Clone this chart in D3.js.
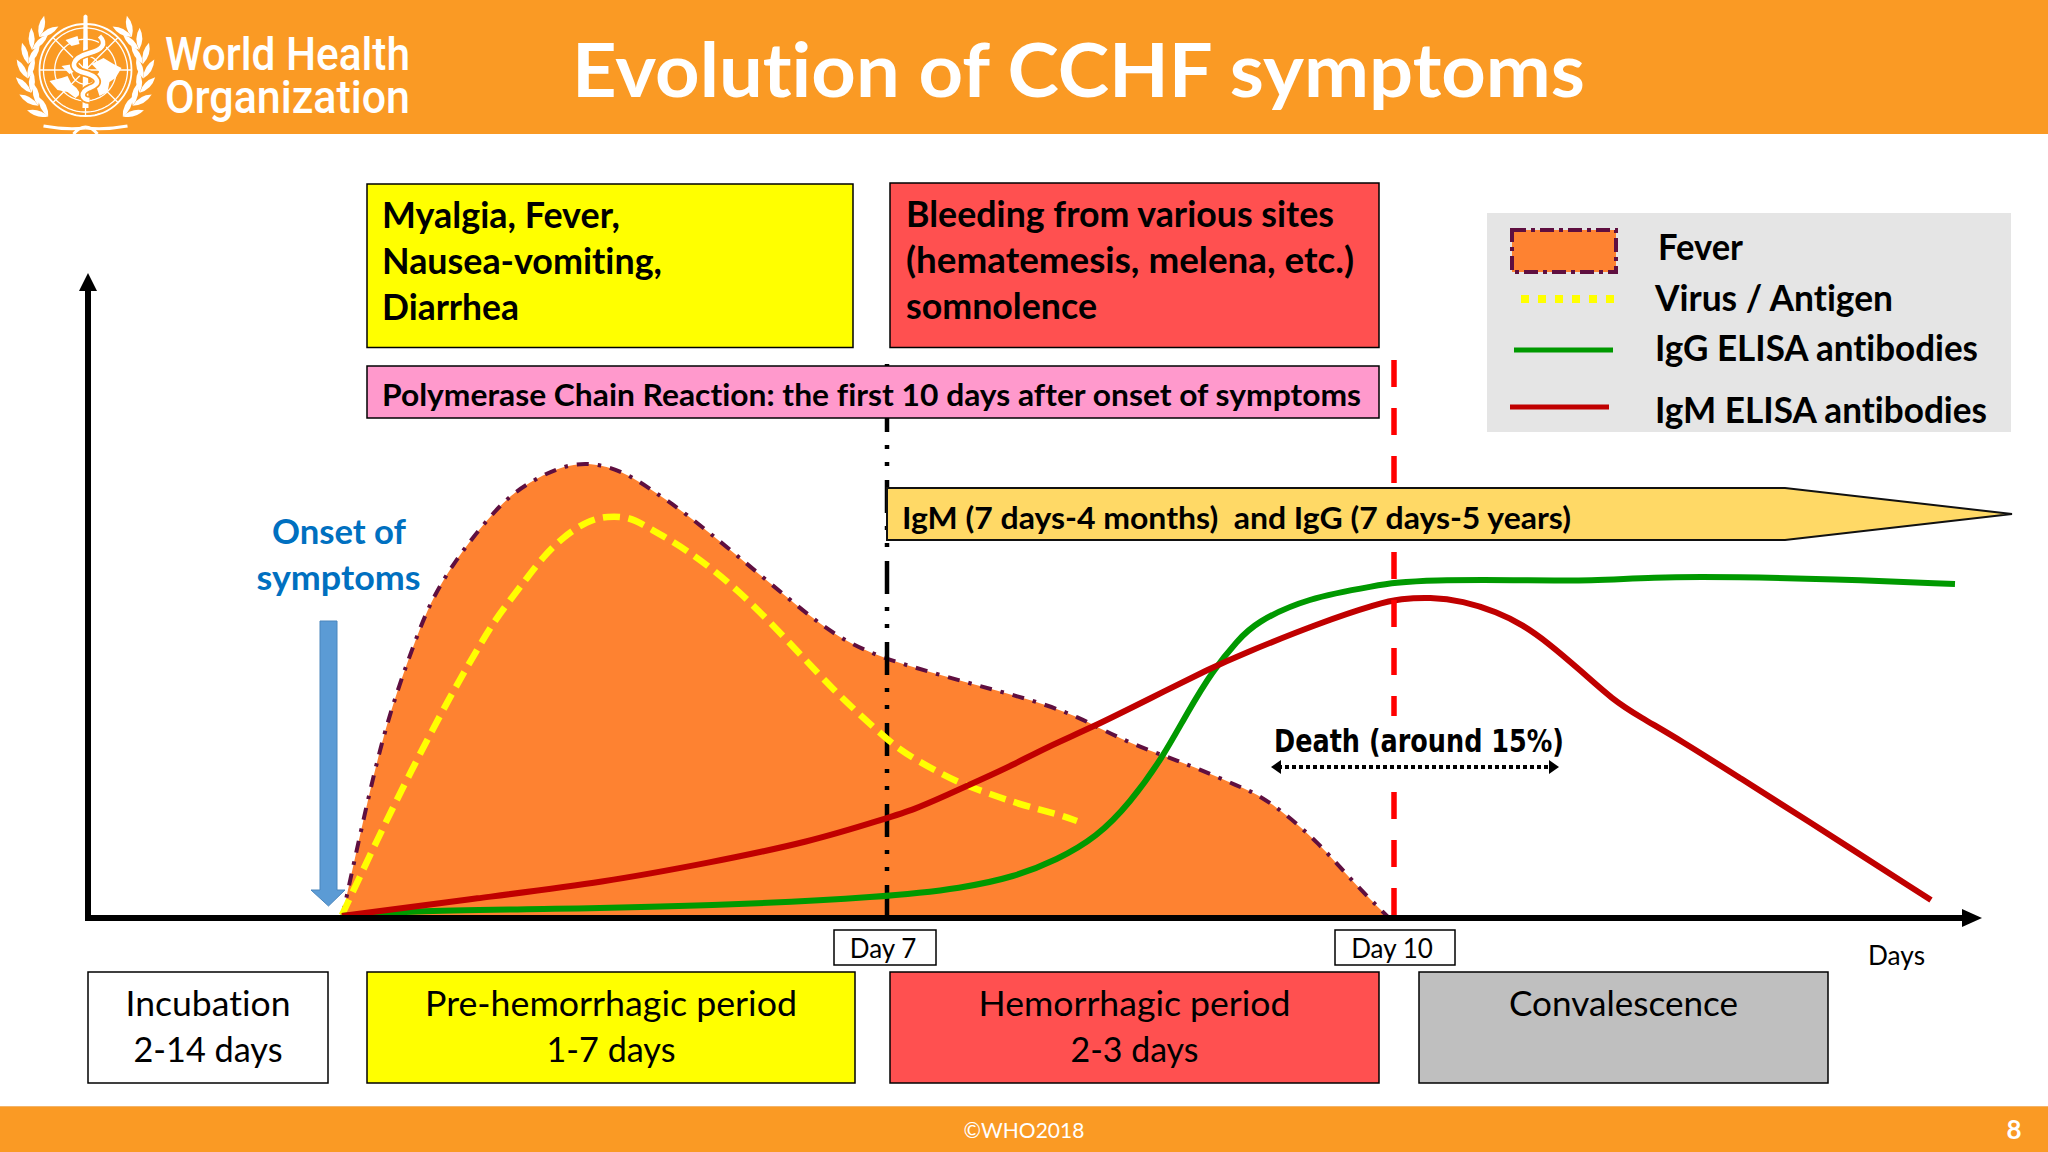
<!DOCTYPE html>
<html><head><meta charset="utf-8">
<script src="https://cdn.jsdelivr.net/npm/d3@7"></script>
<style>html,body{margin:0;padding:0;background:#fff}svg{display:block}text{font-family:Lato,Carlito,sans-serif;font-variant-ligatures:none}</style>
</head><body><svg id="c" width="2048" height="1152"></svg>
<script>
// timeline position (0 = onset of symptoms) and relative level (0-100)
const feverT=[0,2.4,4.2,5.8,7.1,8.5,10.1,12.1,14.5,16.8,19.5,22.1,24.8,28.1,31,34.6,39.2,44.8,49.4,53.8,57.1,60.5,63.8,67.1,70.5,73.8,75.5,78.8,82.5,85.5,89.8,91.3,93.9,97.7,100.9,104.7];
const feverV=[0,22.2,37,47,54.2,61.6,67.6,73.6,79.6,84.6,88,90.4,91.2,89.4,85.6,80.6,73,63.6,56.2,52.2,50.2,48.2,46.4,44.6,42.6,40,38.2,35,32.2,30,26.2,25,21.6,15,7.6,0];
const virusT=[0,3.5,6.8,10.6,13.5,15.1,16.8,18.5,20.1,22.1,24.5,26.5,28.8,30.5,34.6,39.7,44.8,49.4,53.8,55.8,57.8,59.8,61.8,64.5,67.1,69.5,71.8,73.5];
const virusV=[0.6,15.6,29,43.6,53.6,59,63.6,68,72.2,76.2,79.4,80.4,80.2,78.2,73.6,65.6,55,45,37,33.6,31.2,29,27,25,23.2,21.8,20.6,19.4];
const igmT=[0,13.7,26.4,36.6,46.8,54.5,57.1,60.5,63.8,67.1,70.5,75.1,80.5,87.1,89.8,97.7,103.8,105.8,108.8,112.1,115.5,118.1,120.5,123.8,127.1,129.8,133.8,139.8,145.5,158.9];
const igmV=[0.4,4,7.2,11,15.2,20,21.6,24.6,27.6,30.6,34.2,38.2,43.6,50.2,52.6,59,63,63.8,64.2,63.4,61.2,58.6,55.2,49.6,43.6,40.2,35.6,28,20.8,3.6];
const iggT=[0,6,21.3,36.6,54.5,62.1,67.2,71.5,75.5,78.8,82.1,84.5,87.1,89.6,91.3,96.4,103.8,105.1,108.8,117.1,125.5,130.5,139.8,148.7,161.3];
const iggV=[0.4,1.4,1.8,2.4,4.2,6,8.2,11.6,16.2,23,32.2,41,49.6,55.6,59,64,66.6,67,67.6,67.6,67.4,68.2,68.2,67.8,66.8];
const legendLabels=["Fever","Virus / Antigen","IgG ELISA antibodies","IgM ELISA antibodies"];
const phaseLabels=[["Incubation","2-14 days"],["Pre-hemorrhagic period","1-7 days"],["Hemorrhagic period","2-3 days"],["Convalescence",""]];
const symptomsEarly=["Myalgia, Fever,","Nausea-vomiting,","Diarrhea"];
const symptomsLate=["Bleeding from various sites","(hematemesis, melena, etc.)","somnolence"];
const day7=54.5, day10=105.2;

const ORANGE="#FA9A24";
const svg=d3.select("#c");
const x=d3.scaleLinear().domain([0,170]).range([342,2042]);
const y=d3.scaleLinear().domain([0,100]).range([918,418]);
const zip=(a,b)=>a.map((t,i)=>[t,b[i]]);
const curve=d3.curveBasis;
const line=d3.line().x(d=>x(d[0])).y(d=>y(d[1])).curve(curve);
const area=d3.area().x(d=>x(d[0])).y0(y(0)).y1(d=>y(d[1])).curve(curve);

function T(g,s,px,py,size,o={}){
  const t=g.append("text").attr("x",px).attr("y",py).attr("font-size",size).text(s)
    .attr("font-weight",o.w||400).attr("fill",o.f||"#000").attr("text-anchor",o.a||"start");
  if(o.ff)t.style("font-family",o.ff);
  if(o.len)t.attr("textLength",o.len).attr("lengthAdjust","spacingAndGlyphs");
  return t;
}
function R(g,a,b,c,d,fill,st="#000",sw=1.5){
  return g.append("rect").attr("x",a).attr("y",b).attr("width",c-a).attr("height",d-b).attr("fill",fill).attr("stroke",st).attr("stroke-width",sw);
}
// header and footer
R(svg,0,0,2048,134,ORANGE,"none",0);
R(svg,0,1106,2048,1152,ORANGE,"none",0);
svg.append("line").attr("x1",0).attr("x2",2048).attr("y1",1106.5).attr("y2",1106.5).attr("stroke","#f3b469").attr("stroke-width",1);
T(svg,"Evolution of CCHF symptoms",572,97,74,{w:700,f:"#fff",len:1013});
T(svg,"World Health",165,70,47,{w:500,f:"#fff",ff:"Roboto",len:245});
T(svg,"Organization",165,113,47,{w:500,f:"#fff",ff:"Roboto",len:245});
T(svg,"©WHO2018",1024,1138,21,{f:"#fff",a:"middle"});
T(svg,"8",2014,1139,26,{f:"#fff",a:"middle",w:700});

// WHO emblem
const logo=svg.append("g").attr("transform","translate(85.5,70)");
const proj=d3.geoOrthographic().rotate([0,-90]).scale(46).translate([0,0]).clipAngle(90);
logo.append("path").attr("d",d3.geoPath(proj)(d3.geoGraticule().step([45,24])()))
  .attr("fill","none").attr("stroke","#fff").attr("stroke-width",1.3);
logo.append("circle").attr("r",46).attr("fill","none").attr("stroke","#fff").attr("stroke-width",1.8);
["M-36,11L-24,8L-18,6L-14,14L-9,18L-5,24L-10,28L-18,22L-28,20Z",
 "M6,-6L18,-12L28,-6L36,-2L30,8L24,12L22,22L14,26L10,14L6,10L14,2Z",
 "M-24,-4L-12,-6L-8,0L-16,4Z","M-20,-30L-8,-34L-6,-26L-14,-24Z"].forEach(d=>logo.append("path").attr("d",d).attr("fill","#fff"));
logo.append("path").attr("d","M-2,-54Q0,-57 2,-54L3,38L-3,38Z").attr("fill","#fff");
const snake="M14,-34C22,-26 16,-20 4,-17C-14,-12 -16,-2 -4,2C14,6 16,14 4,18C-6,22 -4,30 4,30";
logo.append("path").attr("d",snake).attr("fill","none").attr("stroke",ORANGE).attr("stroke-width",8);
logo.append("path").attr("d",snake).attr("fill","none").attr("stroke","#fff").attr("stroke-width",4.5);
const leaf="M0,0Q6,-11 0,-22Q-6,-11 0,0Z";
[-1,1].forEach(side=>{
  const wing=logo.append("g").attr("transform",`scale(${side},1)`);
  d3.range(7).forEach(i=>{
    const th=(50-i*14.5)*Math.PI/180,R0=58,px=-R0*Math.cos(th),py=R0*Math.sin(th)+2,rot=-(50-i*14.5);
    [-24,24].forEach(tilt=>wing.append("path").attr("d",leaf).attr("fill","#fff").attr("transform",`translate(${px},${py}) rotate(${rot+tilt})`));
  });
  wing.append("path").attr("d","M42,56Q20,60 0,58").attr("fill","none").attr("stroke","#fff").attr("stroke-width",3);
});
logo.append("path").attr("d","M-12,64Q0,50 12,64").attr("fill","none").attr("stroke","#fff").attr("stroke-width",3);

// symptom boxes
R(svg,367,184,853,347.5,"#FFFF00");
symptomsEarly.forEach((s,i)=>T(svg,s,382,[228,274,320][i],36,{w:700,len:[238,280,137][i]}));
R(svg,890,183,1379,347.5,"#FF5050");
symptomsLate.forEach((s,i)=>T(svg,s,906,[227,273,319][i],36,{w:700,len:[428,448,191][i]}));

// fever area
svg.append("path").attr("d",area(zip(feverT,feverV))).attr("fill","#FE8231");
svg.append("path").attr("d",line(zip(feverT,feverV))).attr("fill","none").attr("stroke","#5F0F40").attr("stroke-width",4).attr("stroke-dasharray","12 9 3.5 9");
// Day 7 reference line
svg.append("line").attr("x1",x(day7)).attr("x2",x(day7)).attr("y1",363).attr("y2",918).attr("stroke","#000").attr("stroke-width",4.5).attr("stroke-dasharray","33 13 4 13 4 14").attr("stroke-dashoffset",45);

// antibody and virus curves
svg.append("path").attr("d",line(zip(virusT,virusV))).attr("fill","none").attr("stroke","#FFFF00").attr("stroke-width",6.5).attr("stroke-dasharray","17 8.5");
svg.append("path").attr("d",line(zip(iggT,iggV))).attr("fill","none").attr("stroke","#009900").attr("stroke-width",6);
svg.append("path").attr("d",line(zip(igmT,igmV))).attr("fill","none").attr("stroke","#C00000").attr("stroke-width",6);

// Day 10 reference line
svg.append("line").attr("x1",x(day10)).attr("x2",x(day10)).attr("y1",360).attr("y2",918).attr("stroke","#FF0000").attr("stroke-width",5.5).attr("stroke-dasharray","27 21");

// PCR box and antibody arrow
R(svg,367,366,1379,418,"#FF99CC");
T(svg,"Polymerase Chain Reaction: the first 10 days after onset of symptoms",382,406,31,{w:700,len:979});
svg.append("path").attr("d",d3.line()([[887,488],[1785,488],[2012,514],[1785,540],[887,540]])+"Z").attr("fill","#FFD966").attr("stroke","#111").attr("stroke-width",2);
T(svg,"IgM (7 days-4 months)  and IgG (7 days-5 years)",902,529,31,{w:700,len:669}).style("white-space","pre");

// axes
svg.append("line").attr("x1",88).attr("x2",88).attr("y1",285).attr("y2",921).attr("stroke","#000").attr("stroke-width",6);
svg.append("path").attr("d",d3.line()([[79,291],[88,273],[97,291]])+"Z").attr("fill","#000");
svg.append("line").attr("x1",87).attr("x2",1965).attr("y1",918).attr("y2",918).attr("stroke","#000").attr("stroke-width",6);
svg.append("path").attr("d",d3.line()([[1962,909],[1982,918],[1962,927]])+"Z").attr("fill","#000");
// tick labels
[["Day 7",x(day7),834,936,883],["Day 10",x(day10),1335,1455,1392]].forEach(d=>{
  R(svg,d[2],930,d[3],965,"#fff","#000",1.5);
  T(svg,d[0],d[4],958,26,{a:"middle"});
});
T(svg,"Days",1868,965,26,{len:57});

// onset
T(svg,"Onset of",339,544,35,{w:700,f:"#0070C0",a:"middle",len:134});
T(svg,"symptoms",338.5,590,35,{w:700,f:"#0070C0",a:"middle",len:164});
svg.append("path").attr("d",d3.line()([[320,621],[337,621],[337,890],[345,890],[328.5,906],[311,890],[320,890]])+"Z").attr("fill","#5B9BD5").attr("stroke","#4a86bd").attr("stroke-width",1);

// death
R(svg,1270,716,1562,792,"#fff","none",0);
T(svg,"Death (around 15%)",1274,752,32,{w:700,ff:"'DejaVu Sans'",len:290});
svg.append("line").attr("x1",1278).attr("x2",1552).attr("y1",767).attr("y2",767).attr("stroke","#000").attr("stroke-width",4).attr("stroke-dasharray","4 3");
svg.append("path").attr("d",d3.line()([[1271,767],[1281,760],[1281,774]])+"Z").attr("fill","#000");
svg.append("path").attr("d",d3.line()([[1559,767],[1549,760],[1549,774]])+"Z").attr("fill","#000");

// phase boxes
const phaseBox=[[88,328,"#fff"],[367,855,"#FFFF00"],[890,1379,"#FF5050"],[1419,1828,"#BFBFBF"]];
const phaseLen=[[165,149],[372,129],[312,128],[229,0]];
phaseLabels.forEach((p,i)=>{
  const b=phaseBox[i];
  R(svg,b[0],972,b[1],1083,b[2]);
  T(svg,p[0],(b[0]+b[1])/2,1016,35,{a:"middle",len:phaseLen[i][0]});
  if(p[1])T(svg,p[1],(b[0]+b[1])/2,1062,35,{a:"middle",len:phaseLen[i][1]});
});

// legend
R(svg,1487,213,2011,432,"#E5E5E5","none",0);
R(svg,1512,230,1616,272,"#FE8231","#5F0F40",4).attr("stroke-dasharray","14 5 4 5");
svg.append("line").attr("x1",1521).attr("x2",1617).attr("y1",299).attr("y2",299).attr("stroke","#FFFF00").attr("stroke-width",8).attr("stroke-dasharray","8 9");
svg.append("line").attr("x1",1514).attr("x2",1613).attr("y1",350).attr("y2",350).attr("stroke","#009900").attr("stroke-width",5);
svg.append("line").attr("x1",1510).attr("x2",1609).attr("y1",407).attr("y2",407).attr("stroke","#C00000").attr("stroke-width",5);
legendLabels.forEach((s,i)=>T(svg,s,[1658,1655,1655,1655][i],[260,311,361,423][i],37,{w:700,len:[85,238,323,332][i]}));
</script></body></html>
